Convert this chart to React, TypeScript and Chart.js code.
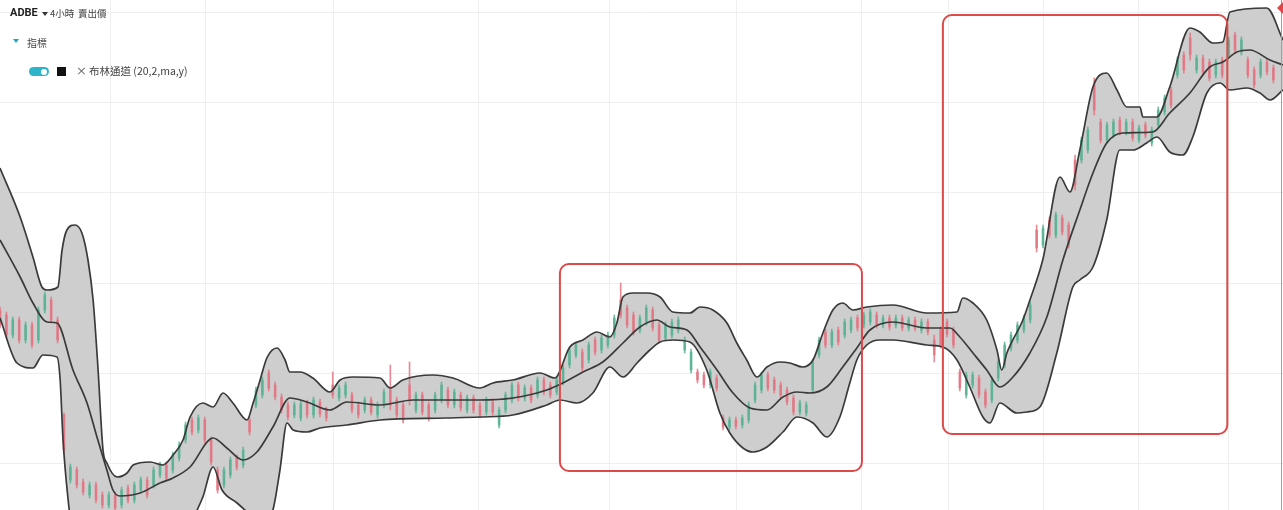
import React, { useEffect, useRef } from "react";
import { Chart, registerables } from "chart.js";

Chart.register(...registerables);

// Bollinger bands: [bar index, price level]
const upperBand: [number, number][] = [
  [0, 342], [6.3, 293], [10.3, 253], [13.1, 223], [14.7, 220], [18.1, 223], [19.4, 260], [20.9, 280], [23.4, 285], [25.6, 277],
  [27.5, 250], [29.1, 210], [30.6, 143], [32.2, 60], [33.4, 47], [36.6, 33], [39.7, 37], [41.6, 45], [46.9, 48], [50.9, 45],
  [54.1, 55], [57.2, 70], [59.4, 93], [63.4, 107], [66.6, 103], [69.7, 117], [72.8, 107], [77.2, 90], [79.1, 107], [81.3, 130],
  [83.4, 152], [86.6, 162], [89.1, 150], [90.6, 138], [93.8, 138], [97.8, 132], [103.1, 118], [106.3, 130], [110.3, 133], [118.8, 132],
  [121.9, 122], [125.9, 130], [135.3, 135], [141.6, 132], [150, 122], [154.1, 127], [160.3, 130], [168.8, 137], [173.4, 132], [178.1, 163],
  [182.2, 170], [186.6, 178], [190.6, 173], [192.8, 187], [194.7, 213], [197.8, 217], [202.2, 217], [206.3, 213], [210.3, 198], [215.6, 197],
  [218.8, 203], [222.8, 200], [227.2, 187], [230.3, 167], [233.4, 150], [236.6, 133], [239.7, 143], [243.8, 148], [246.9, 147], [250.9, 143],
  [254.1, 150], [257.2, 177], [260.3, 200], [263.4, 207], [266.6, 200], [270.9, 203], [279.1, 205], [289.7, 197], [299.1, 198], [300.9, 212],
  [304.1, 207], [308.4, 190], [311.6, 160], [313.1, 140], [314.7, 157], [319.7, 190], [321.9, 210], [325.9, 250], [331.3, 333], [334.4, 318],
  [337.5, 360], [341.6, 423], [345.9, 437], [349.1, 420], [352.2, 403], [356.3, 403], [357.2, 393], [361.6, 393], [365.6, 423], [371.9, 482],
  [375, 478], [379.1, 467], [382.2, 468], [384.4, 498], [395.9, 502], [401, 470],
];

const middleBand: [number, number][] = [
  [0, 270], [6.3, 233], [10.3, 207], [14.7, 188], [17.8, 187], [22.8, 140], [27.2, 107], [30.3, 73], [33.4, 40], [35.3, 20],
  [37.5, 14], [43.8, 17], [50, 27], [54.1, 32], [59.4, 43], [66.6, 72], [70.9, 62], [75.9, 50], [80.3, 58], [85.3, 83],
  [90.6, 112], [95.9, 108], [103.1, 100], [108.4, 108], [118.8, 105], [129.1, 110], [139.7, 110], [150, 110], [160.3, 112], [170.9, 120],
  [175.9, 127], [182.2, 138], [188.4, 148], [194.7, 167], [200, 183], [205.3, 190], [209.4, 183], [214.7, 180], [218.8, 163], [224.1, 140],
  [229.1, 117], [234.4, 102], [239.7, 100], [244.7, 113], [249.1, 118], [253.1, 117], [258.4, 123], [263.4, 143], [267.8, 162], [271.9, 180],
  [279.1, 188], [289.7, 182], [296.9, 182], [300, 173], [304.1, 157], [308.4, 140], [312.5, 123], [316.6, 133], [321.9, 157], [327.2, 193],
  [332.2, 250], [337.5, 300], [341.6, 337], [345.9, 367], [350.9, 377], [360.3, 378], [365.6, 397], [371.9, 417], [378.1, 443], [382.2, 448],
  [386.6, 458], [390.6, 460], [396.9, 450], [401, 445],
];

const lowerBand: [number, number][] = [
  [0, 192], [5.3, 147], [10.3, 142], [13.4, 155], [17.8, 153], [18.8, 130], [19.7, 70], [21.3, 10], [22.5, -20], [30, -70],
  [45, -80], [55, -40], [61.6, 0], [63.4, 13], [66.6, 43], [69.4, 20], [74.1, 7], [77.2, -2], [81.3, -15], [85.3, 0],
  [87.5, 40], [89.7, 87], [91.6, 80], [95.9, 78], [100, 82], [108.4, 85], [118.8, 90], [139.7, 92], [150, 93], [160.3, 95],
  [170.9, 105], [175, 110], [180.3, 107], [185.3, 117], [190.6, 143], [194.7, 133], [199.1, 147], [203.1, 160], [206.3, 168], [210.3, 170],
  [215.6, 168], [220.9, 140], [225, 97], [228.1, 77], [232.2, 62], [235.3, 58], [239.7, 63], [244.7, 78], [249.1, 93], [254.1, 87],
  [258.4, 73], [262.5, 93], [265.6, 127], [267.8, 150], [270.9, 165], [275, 170], [279.1, 170], [289.7, 165], [294.7, 163], [299.1, 150],
  [303.1, 123], [307.2, 93], [309.4, 87], [312.5, 107], [317.8, 97], [320.9, 98], [325, 103], [330.3, 157], [335.3, 223], [337.5, 230],
  [341.6, 243], [345.9, 290], [350, 360], [354.1, 360], [358.4, 367], [361.6, 373], [365.6, 358], [369.7, 355], [372.8, 373], [377.2, 417],
  [381.3, 427], [384.4, 420], [389.7, 422], [393.8, 417], [396.9, 410], [401, 420],
];

// Candles: [open, high, low, close], one every 2 bars
const candleStep = 2;
const candles: [number, number, number, number][] = [
  [200, 203, 182, 185], [195, 198, 172, 175], [175, 193, 172, 190], [190, 193, 167, 170], [170, 188, 167, 185],
  [185, 188, 162, 165], [170, 203, 167, 200], [200, 218, 197, 215], [210, 213, 187, 190], [190, 193, 167, 170],
  [95, 97, 57, 60], [30, 46, 27, 43], [40, 43, 22, 25], [28, 31, 15, 18], [15, 28, 12, 25],
  [25, 28, 7, 10], [15, 18, 2, 5], [5, 18, 2, 15], [15, 18, 0, 2], [5, 23, 2, 20],
  [22, 25, 7, 10], [10, 28, 7, 25], [20, 33, 17, 30], [30, 33, 12, 15], [25, 43, 22, 40],
  [35, 48, 32, 45], [45, 48, 29, 32], [40, 58, 37, 55], [52, 68, 49, 65], [70, 88, 67, 85],
  [90, 93, 75, 78], [80, 95, 77, 92], [90, 93, 67, 70], [70, 73, 45, 48], [40, 43, 17, 20],
  [25, 43, 22, 40], [35, 53, 32, 50], [52, 55, 40, 43], [45, 63, 42, 60], [90, 93, 75, 78],
  [105, 123, 102, 120], [115, 133, 112, 130], [137, 140, 119, 122], [125, 128, 110, 113], [113, 116, 97, 100],
  [105, 108, 90, 93], [95, 108, 92, 105], [92, 109, 89, 106], [107, 110, 92, 95], [95, 113, 92, 110],
  [108, 111, 93, 96], [100, 103, 89, 92], [125, 138, 112, 115], [112, 125, 109, 122], [115, 128, 112, 125],
  [115, 118, 97, 100], [105, 108, 92, 95], [100, 113, 97, 110], [110, 113, 95, 98], [95, 108, 92, 105],
  [105, 121, 102, 118], [120, 145, 100, 105], [110, 113, 92, 95], [105, 108, 87, 90], [125, 148, 105, 110],
  [100, 118, 97, 115], [115, 118, 95, 98], [105, 108, 89, 92], [100, 118, 97, 115], [110, 128, 107, 125],
  [120, 123, 102, 105], [105, 121, 102, 118], [115, 118, 99, 102], [100, 115, 97, 112], [112, 115, 97, 100],
  [105, 108, 92, 95], [98, 113, 95, 110], [108, 111, 95, 98], [85, 103, 82, 100], [100, 118, 97, 115],
  [110, 128, 107, 125], [125, 128, 109, 112], [112, 125, 109, 122], [122, 125, 107, 110], [115, 133, 112, 130],
  [130, 133, 115, 118], [125, 128, 112, 115], [118, 133, 115, 130], [128, 145, 125, 142], [145, 163, 142, 160],
  [155, 168, 152, 165], [158, 161, 139, 142], [150, 168, 147, 165], [170, 173, 155, 158], [160, 175, 157, 172],
  [165, 178, 162, 175], [175, 195, 172, 192], [210, 227, 192, 195], [202, 205, 182, 185], [195, 198, 175, 178],
  [180, 195, 177, 192], [188, 205, 185, 202], [200, 203, 179, 182], [185, 188, 167, 170], [172, 188, 169, 185],
  [175, 191, 172, 188], [180, 193, 177, 190], [160, 173, 157, 170], [140, 161, 137, 158], [138, 141, 127, 130],
  [135, 138, 122, 125], [125, 141, 122, 138], [132, 135, 119, 122], [92, 95, 80, 83], [83, 93, 80, 90],
  [90, 93, 81, 84], [85, 95, 82, 92], [90, 108, 87, 105], [110, 128, 107, 125], [120, 138, 117, 135],
  [135, 138, 119, 122], [130, 133, 117, 120], [125, 128, 112, 115], [120, 123, 105, 108], [112, 115, 95, 98],
  [98, 110, 95, 107], [97, 108, 94, 105], [120, 151, 117, 148], [155, 173, 152, 170], [178, 181, 162, 165],
  [165, 181, 162, 178], [180, 183, 165, 168], [175, 191, 172, 188], [180, 193, 177, 190], [192, 195, 179, 182],
  [185, 198, 182, 195], [188, 201, 185, 198], [195, 198, 182, 185], [185, 195, 182, 192], [192, 195, 180, 183],
  [185, 195, 182, 192], [192, 195, 179, 182], [182, 193, 179, 190], [190, 193, 179, 182], [180, 191, 177, 188],
  [188, 191, 175, 178], [170, 175, 148, 155], [180, 183, 162, 165], [188, 191, 173, 176], [180, 183, 162, 165],
  [138, 141, 119, 122], [115, 138, 112, 135], [125, 138, 122, 135], [132, 135, 112, 115], [118, 121, 102, 105],
  [110, 133, 107, 130], [132, 151, 129, 148], [145, 168, 142, 165], [162, 178, 159, 175], [170, 188, 167, 185],
  [180, 195, 177, 192], [190, 208, 187, 205], [280, 285, 258, 262], [265, 285, 262, 282], [290, 293, 272, 275],
  [275, 298, 272, 295], [292, 295, 275, 278], [285, 288, 262, 265], [350, 355, 320, 325], [350, 373, 347, 370],
  [360, 383, 357, 380], [425, 432, 395, 400], [388, 391, 367, 370], [370, 388, 367, 385], [375, 391, 372, 388],
  [390, 393, 375, 378], [378, 391, 375, 388], [388, 391, 369, 372], [370, 385, 367, 382], [385, 388, 372, 375],
  [367, 383, 364, 380], [385, 403, 382, 400], [398, 415, 395, 412], [420, 423, 402, 405], [435, 453, 432, 450],
  [455, 458, 437, 440], [472, 477, 450, 455], [440, 455, 437, 452], [452, 455, 435, 438], [448, 451, 429, 432],
  [435, 451, 432, 448], [450, 453, 432, 435], [455, 473, 452, 470], [475, 478, 457, 460], [458, 473, 455, 470],
  [450, 453, 432, 435], [440, 443, 422, 425], [435, 451, 432, 448], [448, 451, 435, 438], [442, 445, 427, 430],
];

// Grid positions (bar index / price level)
const gridBars = [34.4, 64.1, 104.1, 149.4, 190.3, 230, 269.1, 296.3, 325.9, 355.6, 383.8];
const gridLevels = [47, 137, 227, 318, 408, 498];

// Highlight boxes: [fromBar, toBar, topLevel, bottomLevel]
const highlightBoxes: [number, number, number, number][] = [
  [175, 269.4, 246, 39],
  [294.7, 383.6, 495, 76],
];

const X_MAX = 401;
const Y_MIN = 0;
const Y_MAX = 510;

const UP = "rgba(88,178,148,0.85)";
const DOWN = "rgba(226,118,130,0.85)";

export default function App() {
  const canvasRef = useRef<HTMLCanvasElement | null>(null);

  useEffect(() => {
    document.body.style.margin = "0";
    document.body.style.overflow = "hidden";
    const canvas = canvasRef.current;
    if (!canvas) return;

    const toPts = (arr: [number, number][]) => arr.map(([x, y]) => ({ x, y }));
    const candleColors = candles.map((c) => (c[3] >= c[0] ? UP : DOWN));

    const gridPlugin = {
      id: "gridBg",
      beforeDraw(chart: any) {
        const { ctx, chartArea, scales } = chart;
        ctx.save();
        ctx.fillStyle = "#ffffff";
        ctx.fillRect(0, 0, chart.width, chart.height);
        ctx.strokeStyle = "#efefef";
        ctx.lineWidth = 1;
        gridBars.forEach((b) => {
          const px = Math.round(scales.x.getPixelForValue(b)) + 0.5;
          ctx.beginPath();
          ctx.moveTo(px, chartArea.top);
          ctx.lineTo(px, chartArea.bottom);
          ctx.stroke();
        });
        gridLevels.forEach((l) => {
          const py = Math.round(scales.y.getPixelForValue(l)) + 0.5;
          ctx.beginPath();
          ctx.moveTo(chartArea.left, py);
          ctx.lineTo(chartArea.right, py);
          ctx.stroke();
        });
        ctx.restore();
      },
    };

    const boxPlugin = {
      id: "boxes",
      afterDatasetsDraw(chart: any) {
        const { ctx, chartArea, scales } = chart;
        ctx.save();
        ctx.strokeStyle = "#dc4a4a";
        ctx.lineWidth = 2;
        highlightBoxes.forEach(([b0, b1, top, bottom]) => {
          const x0 = scales.x.getPixelForValue(b0);
          const x1 = scales.x.getPixelForValue(b1);
          const y0 = scales.y.getPixelForValue(top);
          const y1 = scales.y.getPixelForValue(bottom);
          ctx.beginPath();
          (ctx as any).roundRect(x0, y0, x1 - x0, y1 - y0, 9);
          ctx.stroke();
        });
        // right edge border
        ctx.strokeStyle = "#a0a0a0";
        ctx.lineWidth = 1;
        ctx.beginPath();
        ctx.moveTo(chartArea.right - 1.5, chartArea.top);
        ctx.lineTo(chartArea.right - 1.5, chartArea.bottom);
        ctx.stroke();
        // last price marker
        const my = Math.max(chartArea.top + 8, scales.y.getPixelForValue(502));
        ctx.fillStyle = "#e0454a";
        ctx.beginPath();
        ctx.moveTo(chartArea.right - 6, my);
        ctx.lineTo(chartArea.right, my - 6);
        ctx.lineTo(chartArea.right + 6, my);
        ctx.lineTo(chartArea.right, my + 6);
        ctx.closePath();
        ctx.fill();
        ctx.restore();
      },
    };

    const lineCommon = {
      type: "line" as const,
      pointRadius: 0,
      borderColor: "#3a3a3a",
      borderWidth: 1.7,
      cubicInterpolationMode: "monotone" as const,
      order: 0,
    };

    const chart = new Chart(canvas, {
      type: "bar",
      data: {
        datasets: [
          {
            ...lineCommon,
            label: "upper",
            data: toPts(upperBand),
            fill: 2,
            backgroundColor: "#cecece",
          } as any,
          {
            ...lineCommon,
            label: "middle",
            data: toPts(middleBand),
            fill: false,
          } as any,
          {
            ...lineCommon,
            label: "lower",
            data: toPts(lowerBand),
            fill: false,
          } as any,
          {
            type: "bar",
            label: "bodies",
            data: candles.map((c, k) => ({ x: k * candleStep, y: [c[0], c[3]] })),
            backgroundColor: candleColors,
            borderWidth: 0,
            barThickness: 2,
            grouped: false,
            order: 1,
          } as any,
          {
            type: "bar",
            label: "wicks",
            data: candles.map((c, k) => ({ x: k * candleStep, y: [c[2], c[1]] })),
            backgroundColor: candleColors,
            borderWidth: 0,
            barThickness: 1,
            grouped: false,
            order: 2,
          } as any,
        ],
      },
      options: {
        animation: false,
        responsive: true,
        maintainAspectRatio: false,
        devicePixelRatio: 1,
        layout: { padding: 0 },
        events: [],
        scales: {
          x: { type: "linear", min: 0, max: X_MAX, offset: false, display: false },
          y: { type: "linear", min: Y_MIN, max: Y_MAX, display: false },
        },
        plugins: {
          legend: { display: false },
          tooltip: { enabled: false },
          filler: { drawTime: "beforeDatasetsDraw" },
        } as any,
      },
      plugins: [gridPlugin, boxPlugin],
    });

    return () => chart.destroy();
  }, []);

  const cjk = "'Noto Sans CJK TC', 'Noto Sans', Roboto, sans-serif";
  const abs = (left: number, top: number, extra: React.CSSProperties = {}): React.CSSProperties => ({
    position: "absolute",
    left,
    top,
    lineHeight: "12px",
    whiteSpace: "nowrap",
    fontFamily: cjk,
    color: "#333",
    ...extra,
  });
  const tri = (left: number, top: number, color: string): React.CSSProperties => ({
    position: "absolute",
    left,
    top,
    width: 0,
    height: 0,
    borderLeft: "3px solid transparent",
    borderRight: "3px solid transparent",
    borderTop: `4px solid ${color}`,
  });

  return (
    <div style={{ position: "relative", width: 1283, height: 510, overflow: "hidden", background: "#fff" }}>
      <canvas ref={canvasRef} />
      <span style={abs(10, 7, { fontSize: 11, fontWeight: 700, fontFamily: "Roboto, 'Noto Sans', sans-serif", color: "#222" })}>ADBE</span>
      <div style={tri(42, 12, "#333")} />
      <span style={abs(50, 7, { fontSize: 9.5, color: "#444" })}>4小時</span>
      <span style={abs(78, 7, { fontSize: 9.5, color: "#444" })}>賣出價</span>

      <div style={tri(13, 39, "#1fa7b8")} />
      <span style={abs(27, 37, { fontSize: 10, color: "#444" })}>指標</span>

      <div style={{ position: "absolute", left: 29, top: 67, width: 20, height: 9, borderRadius: 5, background: "#2cb5c9" }} />
      <div style={{ position: "absolute", left: 41, top: 68.5, width: 6, height: 6, borderRadius: 3, background: "#fff" }} />
      <div style={{ position: "absolute", left: 57, top: 67, width: 9, height: 9, background: "#111" }} />
      <span style={abs(76, 65, { fontSize: 13, color: "#777", fontFamily: "'DejaVu Sans', sans-serif" })}>×</span>
      <span style={abs(89, 65, { fontSize: 10.5, color: "#444" })}>布林通道 (20,2,ma,y)</span>
    </div>
  );
}
